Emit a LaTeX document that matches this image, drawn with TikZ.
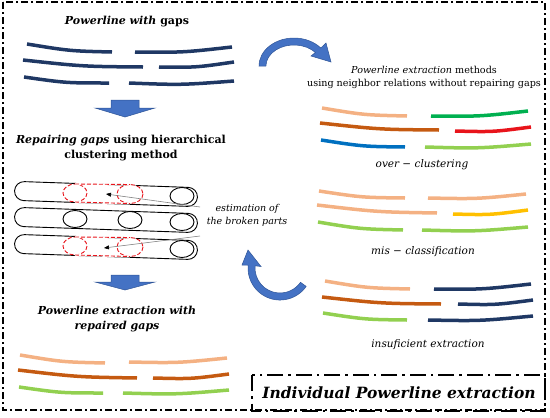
\documentclass[tikz,border=0pt]{standalone}
\usepackage{fontspec}
\setmainfont{DejaVu Serif}
\usetikzlibrary{shapes.misc,arrows.meta}
\definecolor{navy}{HTML}{1F3864}
\definecolor{peach}{HTML}{F4B183}
\definecolor{rust}{HTML}{C55A11}
\definecolor{lime}{HTML}{92D050}
\definecolor{leaf}{HTML}{00B050}
\definecolor{signal}{HTML}{E8141B}
\definecolor{ocean}{HTML}{0070C0}
\definecolor{amber}{HTML}{FFC000}
\definecolor{arrowblue}{HTML}{4472C4}
\definecolor{arrowedge}{HTML}{2F5597}
\begin{document}
\begin{tikzpicture}[x=1pt,y=-1pt]
      % Define styles for lines, tubes and labels
      \tikzstyle{wire} = [line width=3.5pt]
      \tikzstyle{heading} = [font=\fontsize{11}{15}\selectfont\bfseries, align=center]
      \tikzstyle{plain} = [font=\fontsize{9.6}{13}\selectfont, align=center]
      \tikzstyle{caption} = [font=\fontsize{10.5}{13}\selectfont\itshape, align=center]
      \tikzstyle{tube} = [draw, rounded rectangle, minimum width=183pt,
      minimum height=19pt, rotate=-2, line width=0.9pt, inner sep=0pt]
      \tikzstyle{joint} = [line width=0.9pt]
      \tikzstyle{gapmark} = [draw=signal, line width=0.9pt, dash pattern=on 4pt off 2pt]
      \tikzstyle{guess} = [gray, line width=0.6pt, -{Triangle[color=black,length=5pt,width=4pt]}]
      \tikzstyle{bigarrow} = [fill=arrowblue, draw=arrowedge, line width=0.5pt]

      \useasboundingbox (0,0) rectangle (550,418);

      % Outer frame
      \draw[line width=2pt, dash pattern=on 7pt off 3pt on 2pt off 3pt] (3,2) rectangle (545,410);

      % Powerline with gaps
      \node[heading] (title) at (127,22) {\itshape Powerline with \upshape gaps};
      \draw[wire,navy] (27,44) .. controls (70,51) .. (112,52);
      \draw[wire,navy] (135,52) .. controls (183,52.5) .. (232,47);
      \draw[wire,navy] (23,60) .. controls (83,66.5) .. (143,67);
      \draw[wire,navy] (159,67) .. controls (196,67.5) .. (234,62);
      \draw[wire,navy] (24,77) .. controls (66,83) .. (109,83);
      \draw[wire,navy] (129,83) .. controls (181,85) .. (234,81);

      % Block arrows
      \fill[bigarrow] (111,100) -- (139,100) -- (139,108) -- (155,108) -- (125,117)
        -- (95,108) -- (111,108) -- cycle;
      \fill[bigarrow] (111,275) -- (139,275) -- (139,282) -- (155,282) -- (125,290)
        -- (95,282) -- (111,282) -- cycle;

      % Repairing gaps
      \node[heading] (repair) at (121,148) {\itshape Repairing gaps \upshape using hierarchical\\clustering method};

      % Tubes with joints
      \node[tube] (tubeA) at (106,194) {};
      \node[tube] (tubeB) at (106,220) {};
      \node[tube] (tubeC) at (106,247) {};

      \draw[joint] (182,196) ellipse [x radius=12, y radius=8.5];
      \draw[joint] (75,219) ellipse [x radius=12, y radius=8.5];
      \draw[joint] (130,220) ellipse [x radius=12, y radius=8.5];
      \draw[joint] (182,222) ellipse [x radius=12, y radius=8.5];
      \draw[joint] (182,249) ellipse [x radius=12, y radius=8.5];

      % Broken parts
      \draw[gapmark, fill=white] (75,193) ellipse [x radius=12, y radius=9];
      \draw[gapmark, fill=white] (130,194) ellipse [x radius=13, y radius=9.5];
      \draw[gapmark, preaction={draw=white, solid, line width=2pt}] (75,184) -- (130,184.5);
      \draw[gapmark, preaction={draw=white, solid, line width=2pt}] (75,202) -- (130,203.5);
      \draw[gapmark, fill=white] (75,246) ellipse [x radius=12, y radius=9];
      \draw[gapmark, fill=white] (130,247) ellipse [x radius=13, y radius=9.5];
      \draw[gapmark, preaction={draw=white, solid, line width=2pt}] (75,237) -- (130,237.5);
      \draw[gapmark, preaction={draw=white, solid, line width=2pt}] (75,255) -- (130,256.5);

      \coordinate (guessA) at (200,207);
      \coordinate (guessC) at (200,236);
      \coordinate (midA) at (106,194);
      \coordinate (midC) at (104,248);
      \draw[guess] (guessA) -- (midA);
      \draw[guess] (guessC) -- (midC);
      \node[caption, font=\fontsize{9.5}{13}\selectfont\itshape] (estimate) at (247,215) {estimation of\\the broken parts};

      % Powerline extraction with repaired gaps
      \node[heading] (repaired) at (117,319) {\itshape Powerline extraction with\\\itshape repaired gaps};
      \draw[wire,peach] (20,355) .. controls (62,362) .. (105,363);
      \draw[wire,peach] (129,362) .. controls (178,363) .. (227,358);
      \draw[wire,rust] (18,370) .. controls (77,377) .. (137,378);
      \draw[wire,rust] (153,378) .. controls (191,379) .. (229,374);
      \draw[wire,lime] (19,387) .. controls (61,393) .. (103,393);
      \draw[wire,lime] (123,393) .. controls (176,394.5) .. (229,390);

      % Curved arrows
      \fill[bigarrow] (259,66) arc[start angle=180, end angle=320, x radius=35, y radius=28]
        -- (326,43) -- (331,62) -- (311,56) -- (315.4,52.5)
        arc[start angle=320, end angle=180, x radius=28, y radius=21] -- cycle;
      \fill[bigarrow] (306.2,286.4) arc[start angle=35, end angle=185, radius=32]
        -- (242,265) -- (248,250) -- (261,266.5) -- (255.1,265.8)
        arc[start angle=185, end angle=35, radius=25] -- cycle;

      % Methods without repairing gaps
      \node[plain] (methods) at (424,77) {\itshape Powerline extraction \upshape methods\\using neighbor relations without repairing gaps};

      % over-clustering
      \draw[wire,peach] (322,108) .. controls (364,115) .. (407,116);
      \draw[wire,leaf] (431,116) .. controls (480,116.5) .. (528,111);
      \draw[wire,rust] (320,123) .. controls (380,129.5) .. (439,130);
      \draw[wire,signal] (455,131) .. controls (493,132) .. (531,127);
      \draw[wire,ocean] (321,140) .. controls (363,146.5) .. (405,147);
      \draw[wire,lime] (425,147) .. controls (478,148.5) .. (531,144);
      \node[caption] (overlabel) at (422,165) {over − clustering};

      % mis-classification
      \draw[wire,peach] (319,191) .. controls (362,197.5) .. (405,198);
      \draw[wire,peach] (428,198) .. controls (477,199) .. (526,194);
      \draw[wire,peach] (317,205) .. controls (377,212) .. (437,213);
      \draw[wire,amber] (453,214) .. controls (490,215) .. (528,210);
      \draw[wire,lime] (318,222) .. controls (360,229) .. (403,230);
      \draw[wire,lime] (422,230) .. controls (475,231.5) .. (528,227);
      \node[caption] (mislabel) at (423,252) {mis − classification};

      % insufficient extraction
      \draw[wire,peach] (325,281) .. controls (367,288) .. (410,289);
      \draw[wire,navy] (434,289) .. controls (482,289.5) .. (531,284);
      \draw[wire,rust] (322,297) .. controls (381,303.5) .. (441,304);
      \draw[wire,navy] (458,304) .. controls (495,305) .. (533,300);
      \draw[wire,lime] (323,313) .. controls (365,319.5) .. (407,320);
      \draw[wire,navy] (428,320) .. controls (480,321) .. (533,316);
      \node[caption] (insuflabel) at (428,345) {insuficient extraction};

      % Label box
      \draw[line width=1.8pt, dash pattern=on 16pt off 5pt on 2.5pt off 5pt] (252,375) rectangle (545,411);
      \node[font=\fontsize{15.5}{18}\selectfont\bfseries\itshape] (heading) at (399,393) {Individual Powerline extraction};
\end{tikzpicture}
\end{document}
